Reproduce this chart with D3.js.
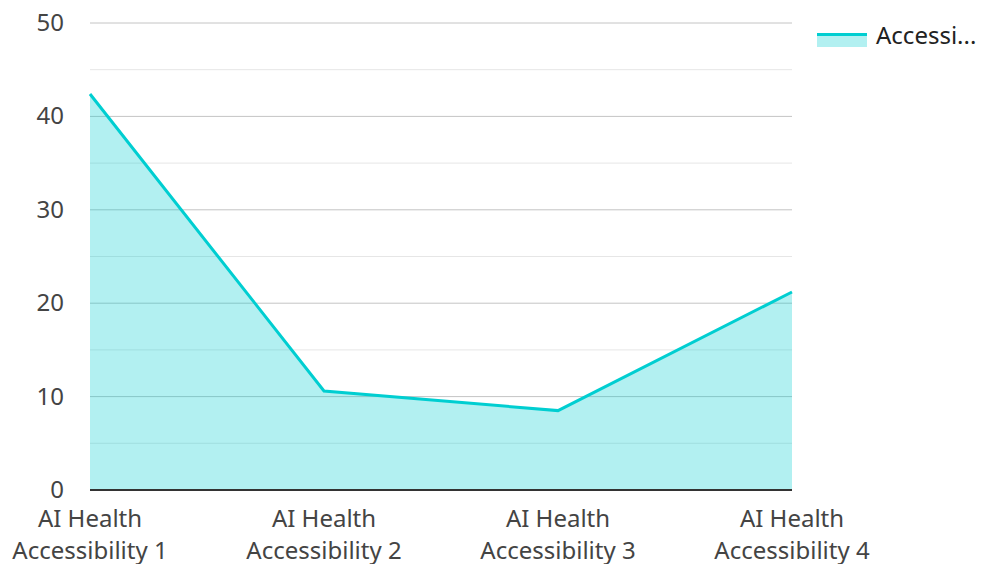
<!DOCTYPE html>
<html>
<head>
<meta charset="utf-8">
<script src="https://cdn.jsdelivr.net/npm/d3@7"></script>
<style>
  body { margin: 0; background: #fff; }
  text { font-family: "Noto Sans", sans-serif; fill: #444; }
</style>
</head>
<body>
<div id="viz"></div>
<script>
const categories = ["AI Health Accessibility 1", "AI Health Accessibility 2", "AI Health Accessibility 3", "AI Health Accessibility 4"];
const values = [42.4, 10.6, 8.5, 21.2];
const seriesName = "Accessibility";
const yTicks = [0, 10, 20, 30, 40, 50];

const width = 982, height = 564;
const margin = { left: 90, right: 190, top: 23, bottom: 74 };
const lineColor = "#00ced1";

const svg = d3.select("#viz").append("svg")
    .attr("width", width)
    .attr("height", height);

const x = d3.scalePoint()
    .domain(categories)
    .range([margin.left, width - margin.right]);

const y = d3.scaleLinear()
    .domain([0, 50])
    .range([height - margin.bottom, margin.top]);

// grid lines, minor every 5 and major every 10
svg.selectAll(".grid-minor")
    .data(d3.range(5, 50, 10))
    .join("line")
        .attr("x1", margin.left)
        .attr("x2", width - margin.right)
        .attr("y1", d => y(d))
        .attr("y2", d => y(d))
        .attr("stroke", "#e6e6e6")
        .attr("stroke-width", 1);

svg.selectAll(".grid-major")
    .data(yTicks.slice(1))
    .join("line")
        .attr("x1", margin.left)
        .attr("x2", width - margin.right)
        .attr("y1", d => y(d))
        .attr("y2", d => y(d))
        .attr("stroke", "#c4c4c4")
        .attr("stroke-width", 1);

const pts = categories.map((c, i) => [x(c), y(values[i])]);

svg.append("path")
    .attr("d", d3.area().x(d => d[0]).y0(y(0)).y1(d => d[1])(pts))
    .attr("fill", lineColor)
    .attr("fill-opacity", 0.3);

svg.append("path")
    .attr("d", d3.line()(pts))
    .attr("fill", "none")
    .attr("stroke", lineColor)
    .attr("stroke-width", 3);

// baseline
svg.append("line")
    .attr("x1", margin.left)
    .attr("x2", width - margin.right)
    .attr("y1", y(0))
    .attr("y2", y(0))
    .attr("stroke", "#333")
    .attr("stroke-width", 2);

svg.selectAll(".y-label")
    .data(yTicks)
    .join("text")
        .attr("class", "y-label")
        .attr("x", 64)
        .attr("y", d => y(d) + 8)
        .attr("text-anchor", "end")
        .style("font-size", "24px")
        .text(d => d);

const xl = svg.selectAll(".x-label")
    .data(categories)
    .join("text")
        .attr("class", "x-label")
        .attr("text-anchor", "middle")
        .style("font-size", "24px");

xl.append("tspan")
    .attr("x", d => x(d))
    .attr("y", y(0) + 37)
    .text(d => d.split(" ").slice(0, 2).join(" "));

xl.append("tspan")
    .attr("x", d => x(d))
    .attr("y", y(0) + 69)
    .text(d => d.split(" ").slice(2).join(" "));

// legend
const lg = svg.append("g").attr("transform", "translate(817,33)");
lg.append("rect")
    .attr("width", 50).attr("height", 14)
    .attr("fill", lineColor).attr("fill-opacity", 0.3);
lg.append("line")
    .attr("x1", 0).attr("x2", 50).attr("y1", 1.5).attr("y2", 1.5)
    .attr("stroke", lineColor).attr("stroke-width", 3);
lg.append("text")
    .attr("x", 59).attr("y", 11)
    .style("font-size", "24px")
    .style("fill", "#222")
    .text(seriesName.slice(0, 7) + "...");
</script>
</body>
</html>
